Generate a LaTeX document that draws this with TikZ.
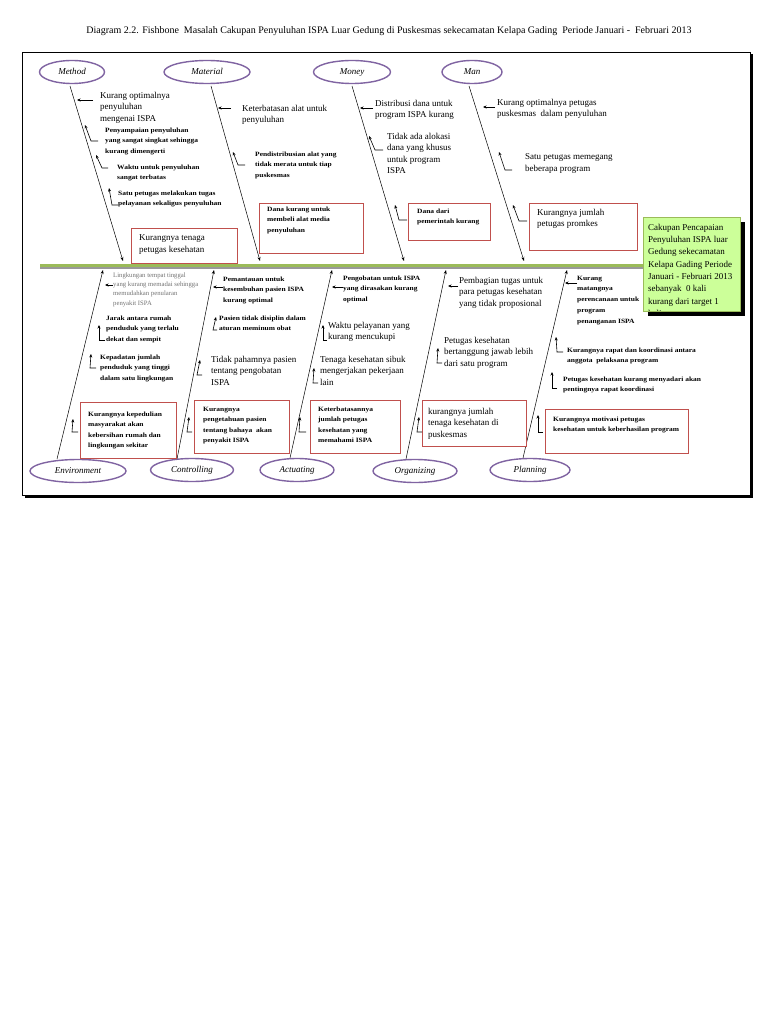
\documentclass[tikz,border=0pt]{standalone}
\usepackage{fontspec}
\setmainfont{Liberation Serif}
\newfontfamily\smf[FakeStretch=1.15]{Liberation Serif}
\usetikzlibrary{shapes.geometric,arrows.meta}
\definecolor{boxred}{RGB}{192,80,77}
\definecolor{ellpur}{RGB}{128,100,162}
\definecolor{spgreen}{RGB}{155,187,89}
\definecolor{effill}{RGB}{204,255,153}
\tikzset{
 big/.style={font=\fontsize{9}{11.5}\selectfont, align=left, inner sep=0pt, anchor=north west},
 sml/.style={font=\smf\bfseries\fontsize{6.5}{10.5}\selectfont, align=left, inner sep=0pt, anchor=north west},
 gry/.style={font=\fontsize{6.7}{9.3}\selectfont, text=black!55, align=left, inner sep=0pt, anchor=north west},
 ell/.style={ellipse, draw=ellpur, line width=1.4pt, fill=white, minimum height=23pt, inner sep=0pt, text height=6.3pt, text depth=1.8pt, font=\itshape\fontsize{9}{10}\selectfont},
 rbox/.style={draw=boxred, line width=1.2pt, fill=white, anchor=north west, inner sep=0pt},
 bone/.style={line width=0.5pt, -{Stealth[length=4pt,width=3pt]}},
 carrow/.style={line width=0.6pt, -{Stealth[length=3.5pt,width=3pt]}},
}
\begin{document}
\begin{tikzpicture}[x=1pt,y=-1pt]
\useasboundingbox (0,0) rectangle (768,1024);
\fill[white] (0,0) rectangle (768,1024);
% title
\node[font=\fontsize{10}{12}\selectfont] (title) at (389,31) {Diagram 2.2. Fishbone\ \ Masalah Cakupan Penyuluhan ISPA Luar Gedung di Puskesmas sekecamatan Kelapa Gading\ \ Periode Januari -\ \ Februari 2013};
% frame
\fill[black] (24.5,54.5) rectangle (752.5,497.5);
\draw[line width=0.8pt, fill=white] (22,52) rectangle (750,495);

% ellipses
\node[ell, minimum width=65pt] (method) at (72,72) {Method};
\node[ell, minimum width=86pt] (material) at (207,72) {Material};
\node[ell, minimum width=77pt] (money) at (352,72) {Money};
\node[ell, minimum width=60pt] (man) at (472,72) {Man};
\node[ell, minimum width=96pt] (env) at (78,471) {Environment};
\node[ell, minimum width=83pt] (ctrl) at (192,470) {Controlling};
\node[ell, minimum width=74pt] (act) at (297,470) {Actuating};
\node[ell, minimum width=84pt] (org) at (415,471) {Organizing};
\node[ell, minimum width=80pt] (plan) at (530,470) {Planning};

% bone coordinates
\coordinate (mA) at (70,86);  \coordinate (mB) at (123,261);
\coordinate (maA) at (211,86); \coordinate (maB) at (260,261);
\coordinate (moA) at (352,86); \coordinate (moB) at (404,261);
\coordinate (mnA) at (469,86); \coordinate (mnB) at (524,261);
\coordinate (eA) at (57,459);  \coordinate (eB) at (103,270);
\coordinate (cA) at (177,459); \coordinate (cB) at (214,270);
\coordinate (aA) at (290,458); \coordinate (aB) at (332,270);
\coordinate (oA) at (406,459); \coordinate (oB) at (446,270);
\coordinate (pA) at (523,458); \coordinate (pB) at (567,270);
\foreach \s/\e in {mA/mB,maA/maB,moA/moB,mnA/mnB,eA/eB,cA/cB,aA/aB,oA/oB,pA/pB}
  \draw[bone] (\s) -- (\e);

% ---------- Method
\node[big] (m1) at (100,91.8) {Kurang optimalnya\\penyuluhan\\mengenai ISPA};
\draw[carrow] (93,100) -- (77,100);
\node[sml] (m2) at (105,127.6) {Penyampaian penyuluhan\\yang sangat singkat sehingga\\kurang dimengerti};
\draw[carrow] (98,141) -- (91,141) -- (85,125);
\node[sml] (m3) at (117,164.6) {Waktu untuk penyuluhan\\sangat terbatas};
\draw[carrow] (108,168) -- (102,168) -- (96,155);
\node[sml] (m4) at (118,190.6) {Satu petugas melakukan tugas\\pelayanan sekaligus penyuluhan};
\draw[carrow] (118,205) -- (112,205) -- (109,188);
\node[rbox, minimum width=106pt, minimum height=35pt] (mbox) at (131,228) {};
\node[big] (mbt) at (139,234.8) {Kurangnya tenaga\\petugas kesehatan};

% ---------- Material
\node[big] (ma1) at (242,104.8) {Keterbatasan alat untuk\\penyuluhan};
\draw[carrow] (231,108) -- (218,108);
\node[sml] (ma2) at (255,151.6) {Pendistribusian alat yang\\tidak merata untuk tiap\\puskesmas};
\draw[carrow] (245,165) -- (238,165) -- (233,152);
\node[rbox, minimum width=104pt, minimum height=50pt] (mabox) at (259,203) {};
\node[sml] (mabt) at (267,206.6) {Dana kurang untuk\\membeli alat media\\penyuluhan};

% ---------- Money
\node[big] (mo1) at (375,99.8) {Distribusi dana untuk\\program ISPA kurang};
\draw[carrow] (373,108) -- (360,108);
\node[big] (mo2) at (387,132.8) {Tidak ada alokasi\\dana yang khusus\\untuk program\\ISPA};
\draw[carrow] (383,150) -- (375,150) -- (369,136);
\node[rbox, minimum width=82pt, minimum height=37pt] (mobox) at (408,203) {};
\node[sml] (mobt) at (417,208.6) {Dana dari\\pemerintah kurang};
\draw[carrow] (407,220) -- (399,220) -- (395,205);

% ---------- Man
\node[big] (mn1) at (497,98.8) {Kurang optimalnya petugas\\puskesmas\ \ dalam penyuluhan};
\draw[carrow] (495,107) -- (483,107);
\node[big] (mn2) at (525,153.8) {Satu petugas memegang\\beberapa program};
\draw[carrow] (512,170) -- (505,170) -- (499,152);
\node[rbox, minimum width=108pt, minimum height=47pt] (mnbox) at (529,203) {};
\node[big] (mnbt) at (537,208.8) {Kurangnya jumlah\\petugas promkes};
\draw[carrow] (527,221) -- (519,221) -- (513,205);

% ---------- spine
\coordinate (spL) at (40,265.5); \coordinate (spR) at (643,265.5);
\draw[black!40, line width=2pt] ([yshift=-2.5pt]spL) -- ([yshift=-2.5pt]spR);
\draw[spgreen, line width=3pt] (spL) -- (spR);

% ---------- effect box
\fill[black] (648,222) rectangle (745,316);
\node[draw=spgreen, line width=0.8pt, fill=effill, anchor=north west, minimum width=97pt, minimum height=94pt, inner sep=0pt] (effect) at (643,217) {};
\begin{scope}
\clip (643,217) rectangle (740,310);
\node[font=\fontsize{9}{12.3}\selectfont, align=left, inner sep=0pt, anchor=north west] (eft) at (648,223.8) {Cakupan Pencapaian\\Penyuluhan ISPA luar\\Gedung sekecamatan\\Kelapa Gading Periode\\Januari - Februari 2013\\sebanyak\ \ 0 kali\\kurang dari target 1\\kali};
\end{scope}

% ---------- Environment
\node[gry] (e1) at (113,272.5) {Lingkungan tempat tinggal\\yang kurang memadai sehingga\\memudahkan penularan\\penyakit ISPA};
\draw[carrow] (113,285) -- (105,285);
\node[sml] (e2) at (106,315.6) {Jarak antara rumah\\penduduk yang terlalu\\dekat dan sempit};
\draw[carrow] (105,340) -- (99,340) -- (99,325);
\node[sml] (e3) at (100,354.6) {Kepadatan jumlah\\penduduk yang tinggi\\dalam satu lingkungan};
\draw[carrow] (96,368) -- (90,368) -- (91,354);
\node[rbox, minimum width=96pt, minimum height=56pt] (ebox) at (80,402) {};
\node[sml] (ebt) at (88,411.6) {Kurangnya kepedulian\\masyarakat akan\\kebersihan rumah dan\\lingkungan sekitar};
\draw[carrow] (78,432) -- (72,432) -- (73,419);

% ---------- Controlling
\node[sml] (c1) at (223,276.6) {Pemantauan untuk\\kesembuhan pasien ISPA\\kurang optimal};
\draw[carrow] (223,287) -- (213,287);
\node[sml] (c2) at (219,315.6) {Pasien tidak disiplin dalam\\aturan meminum obat};
\draw[carrow] (217,330) -- (213,330) -- (216,317);
\node[big] (c3) at (211,355.8) {Tidak pahamnya pasien\\tentang pengobatan\\ISPA};
\draw[carrow] (202,375) -- (197,375) -- (200,360);
\node[rbox, minimum width=95pt, minimum height=53pt] (cbox) at (194,400) {};
\node[sml] (cbt) at (203,406.6) {Kurangnya\\pengetahuan pasien\\tentang bahaya\ \ akan\\penyakit ISPA};
\draw[carrow] (192,432) -- (187,432) -- (189,417);

% ---------- Actuating
\node[sml] (a1) at (343,275.6) {Pengobatan untuk ISPA\\yang dirasakan kurang\\optimal};
\draw[carrow] (343,287) -- (332,287);
\node[big] (a2) at (328,321.8) {Waktu pelayanan yang\\kurang mencukupi};
\draw[carrow] (327,340) -- (323,340) -- (323,325);
\node[big] (a3) at (320,355.8) {Tenaga kesehatan sibuk\\mengerjakan pekerjaan\\lain};
\draw[carrow] (318,383) -- (313,383) -- (314,368);
\node[rbox, minimum width=90pt, minimum height=53pt] (abox) at (310,400) {};
\node[sml] (abt) at (318,406.6) {Keterbatasannya\\jumlah petugas\\kesehatan yang\\memahami ISPA};
\draw[carrow] (306,432) -- (299,432) -- (300,417);

% ---------- Organizing
\node[big] (o1) at (459,276.8) {Pembagian tugas untuk\\para petugas kesehatan\\yang tidak proposional};
\draw[carrow] (458,286) -- (448,286);
\node[big] (o2) at (444,336.8) {Petugas kesehatan\\bertanggung jawab lebih\\dari satu program};
\draw[carrow] (442,363) -- (437,363) -- (438,348);
\node[rbox, minimum width=104pt, minimum height=46pt] (obox) at (422,400) {};
\node[big] (obt) at (428,407.8) {kurangnya jumlah\\tenaga kesehatan di\\puskesmas};
\draw[carrow] (422,432) -- (417,432) -- (419,417);

% ---------- Planning
\node[sml, font=\smf\bfseries\fontsize{6.5}{10.8}\selectfont] (p1) at (577,275.6) {Kurang\\matangnya\\perencanaan untuk\\program\\penanganan ISPA};
\draw[carrow] (577,283) -- (565,283);
\node[sml] (p2) at (567,347.6) {Kurangnya rapat dan koordinasi antara\\anggota\ \ pelaksana program};
\draw[carrow] (563,352) -- (557,352) -- (556,337);
\node[sml] (p3) at (563,376.6) {Petugas kesehatan kurang menyadari akan\\pentingnya rapat koordinasi};
\draw[carrow] (557,388) -- (552,388) -- (552,372);
\node[rbox, minimum width=143pt, minimum height=44pt] (pbox) at (545,409) {};
\node[sml] (pbt) at (553,416.6) {Kurangnya motivasi petugas\\kesehatan untuk keberhasilan program};
\draw[carrow] (543,432) -- (538,432) -- (538,415);
\end{tikzpicture}
\end{document}
